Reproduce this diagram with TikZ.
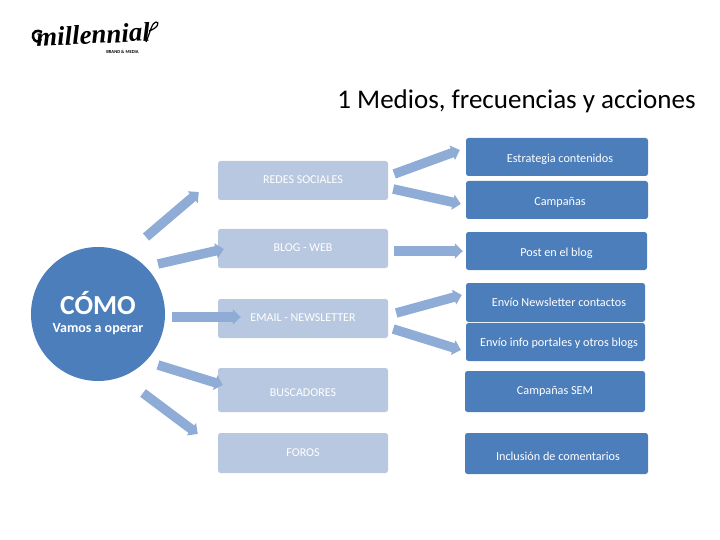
\documentclass[tikz,border=0pt]{standalone}
\usepackage{fontspec}
\setmainfont{Carlito}
\newfontfamily\logofont{Liberation Serif}
\usepackage{xcolor}
\usetikzlibrary{arrows.meta}
\definecolor{oscuro}{RGB}{76,126,187}
\definecolor{claro}{RGB}{184,200,224}
\definecolor{flecha}{RGB}{143,172,214}
\newcommand{\bajar}[2]{\smash{\raisebox{\dimexpr-4.5pt-#1\relax}{#2}}}
\tikzset{
  cajaclara/.style={fill=claro, rounded corners=2.5pt, text=white, font=\fontsize{12}{14}\selectfont, minimum width=170pt, inner sep=0pt},
  cajaoscura/.style={fill=oscuro, rounded corners=2.5pt, text=white, font=\fontsize{12.2}{14}\selectfont, inner sep=0pt},
  flechagorda/.style={draw=flecha, line width=9.5pt, -{Triangle[length=8pt, width=15pt]}},
}

\begin{document}
\begin{tikzpicture}[x=1pt, y=-1pt]

\useasboundingbox (0,0) rectangle (720,540);

% logo
\node[inner sep=0pt] (logo) at (93,34.5) [rotate=3] {\fontsize{27}{27}\logofont\bfseries\itshape millennial};
\node[inner sep=0pt] (marca) at (122.5,52) {\fontsize{4.6}{5}\selectfont\bfseries BRAND \& MEDIA};
\draw[black, line width=1.2pt] (146,42) .. controls (150,33) and (152,22) .. (156,22) .. controls (160,22) and (158,28) .. (149,31);
\draw[black, line width=2.5pt] (42,32) .. controls (37,29) and (32,32) .. (33,37) .. controls (34,42) and (39,43) .. (41,39);

\node (titulo) at (516.5,101.5) {\fontsize{27}{30}\selectfont 1 Medios, frecuencias y acciones};

% centro
\node[circle, fill=oscuro, minimum size=134pt, inner sep=0pt] (como) at (98,314) {};
\node[text=white] (comotxt) at (98,303) {\fontsize{27.5}{29}\selectfont\bfseries CÓMO};
\node[text=white] (operar) at (98,329) {\fontsize{14}{15}\selectfont\bfseries Vamos a operar};

% medios
\node[cajaclara, minimum height=39pt] (redes) at (303,180.5) {\bajar{-1.5pt}{REDES SOCIALES}};
\node[cajaclara, minimum height=39pt] (blog) at (303,248.5) {\bajar{-1.5pt}{BLOG - WEB}};
\node[cajaclara, minimum height=39pt] (email) at (303,318.5) {\bajar{-1.5pt}{EMAIL - NEWSLETTER}};
\node[cajaclara, minimum height=44pt] (buscadores) at (303,390) {\bajar{2pt}{BUSCADORES}};
\node[cajaclara, minimum height=40pt] (foros) at (303,453) {\bajar{-1pt}{FOROS}};

% acciones
\node[cajaoscura, minimum width=182pt, minimum height=38pt] (estrategia) at (557,157) {\bajar{1pt}{\hspace*{6pt}Estrategia contenidos}};
\node[cajaoscura, minimum width=182pt, minimum height=38pt] (campanas) at (557,200) {\bajar{1pt}{\hspace*{6pt}Campañas}};
\node[cajaoscura, minimum width=181pt, minimum height=38pt] (post) at (556.5,251) {\bajar{1pt}{Post en el blog}};
\node[cajaoscura, minimum width=179pt, minimum height=39pt] (newsletter) at (555.5,302.5) {\bajar{-0.5pt}{\hspace*{7pt}Envío Newsletter contactos}};
\node[cajaoscura, minimum width=179pt, minimum height=38pt] (portales) at (555.5,342) {\bajar{0pt}{\hspace*{7pt}Envío info portales y otros blogs}};
\node[cajaoscura, minimum width=180pt, minimum height=41pt] (sem) at (555,391.5) {\bajar{-1.5pt}{Campañas SEM}};
\node[cajaoscura, minimum width=183pt, minimum height=41pt] (comentarios) at (556.5,453.5) {\bajar{2.5pt}{\hspace*{3pt}Inclusión de comentarios}};

% flechas izquierda
\draw[flechagorda] ([shift={(48,-77)}]como.center) -- ([shift={(-19,11.5)}]redes.west);
\draw[flechagorda] ([shift={(60,-50)}]como.center) -- ([shift={(6,0.5)}]blog.west);
\draw[flechagorda] ([shift={(74,3)}]como.center) -- ([shift={(23,-1.5)}]email.west);
\draw[flechagorda] ([shift={(60,51)}]como.center) -- ([shift={(5,-5)}]buscadores.west);
\draw[flechagorda] ([shift={(45,79)}]como.center) -- ([shift={(-20,-19)}]foros.west);

% flechas derecha
\draw[flechagorda] ([shift={(6,-6.5)}]redes.east) -- ([shift={(-6,-7)}]estrategia.west);
\draw[flechagorda] ([shift={(5,8.5)}]redes.east) -- ([shift={(-5,4)}]campanas.west);
\draw[flechagorda] ([shift={(6,2.5)}]blog.east) -- ([shift={(-3,0)}]post.west);
\draw[flechagorda] ([shift={(8,-5.5)}]email.east) -- ([shift={(-4,-7.5)}]newsletter.west);
\draw[flechagorda] ([shift={(5,10.5)}]email.east) -- ([shift={(-5,8)}]portales.west);

\end{tikzpicture}
\end{document}
